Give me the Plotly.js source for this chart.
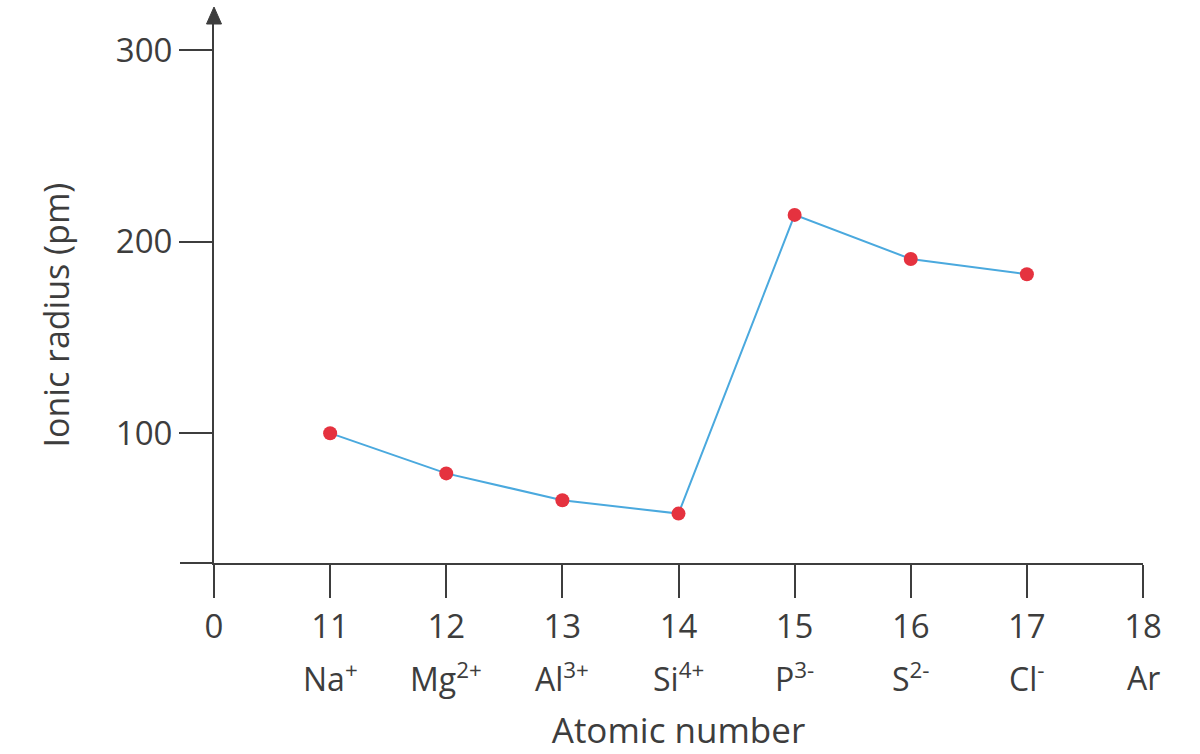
<!DOCTYPE html>
<html>
<head>
<meta charset="utf-8">
<script src="https://cdn.plot.ly/plotly-3.0.1.min.js"></script>
<style>html,body{margin:0;padding:0;background:#fff;}#chart{width:1200px;height:754px;}</style>
</head>
<body>
<div id="chart"></div>
<script>
// Categories on the x axis (atomic number) and the ion under each one
const atomicNumbers = ['0', '11', '12', '13', '14', '15', '16', '17', '18'];
const ionLabels = ['', 'Na<sup>+</sup>', 'Mg<sup>2+</sup>', 'Al<sup>3+</sup>', 'Si<sup>4+</sup>', 'P<sup>3-</sup>', 'S<sup>2-</sup>', 'Cl<sup>-</sup>', 'Ar'];
// Measured ionic radii (pm)
const ionElements = ['11', '12', '13', '14', '15', '16', '17'];
const ionicRadius = [100, 79, 65, 58, 214, 191, 183];
const yTickValues = [100, 200, 300];

const ink = '#3d3d3d';
const font = 'Open Sans, Lato, DejaVu Sans, sans-serif';

const trace = {
  type: 'scatter',
  mode: 'lines+markers',
  x: ionElements,
  y: ionicRadius,
  line: {color: '#4aa9de', width: 2},
  marker: {color: '#e5323f', size: 14},
  hoverinfo: 'x+y'
};

// ion labels: placed under each category (by category index)
const annotations = atomicNumbers.map((c, i) => ({
  x: i, xref: 'x', y: 0, yref: 'paper',
  yshift: -114, yanchor: 'middle', xanchor: 'center',
  text: ionLabels[i], showarrow: false,
  font: {family: font, size: 32, color: ink}
})).filter(a => a.text !== '');

// y axis title, placed as in the reference
annotations.push({
  xref: 'paper', x: 0, xshift: -159, xanchor: 'center',
  yref: 'paper', y: 0.5, yshift: -22, yanchor: 'middle',
  textangle: -90, showarrow: false,
  text: 'Ionic radius (pm)',
  font: {family: font, size: 34, color: ink}
});

const layout = {
  width: 1200, height: 754,
  margin: {l: 214, r: 57, t: 24, b: 191},
  paper_bgcolor: '#ffffff', plot_bgcolor: '#ffffff',
  showlegend: false,
  font: {family: font, color: ink},
  xaxis: {
    type: 'category',
    categoryorder: 'array', categoryarray: atomicNumbers,
    range: [0, 8],
    showgrid: false, zeroline: false,
    showline: true, linecolor: ink, linewidth: 2,
    ticks: 'outside', ticklen: 33, tickwidth: 2, tickcolor: ink,
    tickfont: {family: font, size: 33, color: ink},
    title: {text: 'Atomic number', font: {family: font, size: 35, color: ink}, standoff: 72},
    automargin: false, fixedrange: true
  },
  yaxis: {
    range: [32.2, 313.7],
    tickvals: yTickValues,
    showgrid: false, zeroline: false,
    showline: true, linecolor: ink, linewidth: 2,
    ticks: 'outside', ticklen: 33, tickwidth: 2, tickcolor: ink,
    tickfont: {family: font, size: 33, color: ink},
    automargin: false, fixedrange: true
  },
  annotations: annotations,
  shapes: [
    {type: 'line', xref: 'paper', yref: 'paper', x0: -0.0366, x1: 0, y0: 0, y1: 0,
     line: {color: ink, width: 2}},
    {type: 'path', xref: 'paper', yref: 'paper', xsizemode: 'pixel', ysizemode: 'pixel',
     xanchor: 0, yanchor: 1, path: 'M -7.5 0 L 7.5 0 L 0 17 Z',
     fillcolor: ink, line: {color: ink, width: 1}}
  ]
};

Plotly.newPlot('chart', [trace], layout, {displayModeBar: false, staticPlot: true});
</script>
</body>
</html>
